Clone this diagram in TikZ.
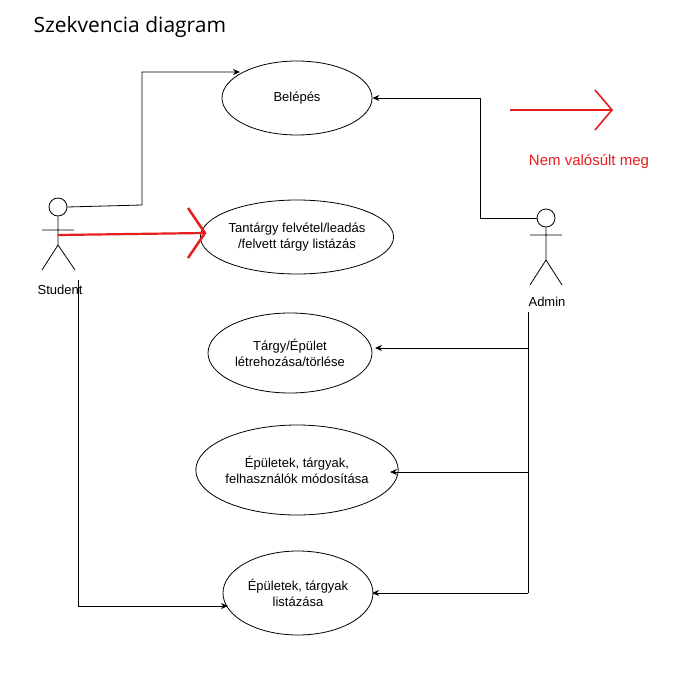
\documentclass[tikz,border=0pt]{standalone}
\usepackage{fontspec}
\setmainfont{Liberation Sans}
\newfontfamily\titlefont{Open Sans}
\usetikzlibrary{arrows.meta,shapes.geometric}
\definecolor{myred}{RGB}{230,30,30}
\begin{document}
\begin{tikzpicture}[x=1pt,y=-1pt,
  uc/.style={draw,ellipse,inner sep=0pt,line width=0.8pt,font=\fontsize{13}{15.5}\selectfont,align=center},
  ln/.style={draw,line width=0.8pt},
  ar/.style={ln,-{Stealth[length=7pt,width=6pt]}},
  red/.style={draw=myred,line width=2.2pt}]
\useasboundingbox (0,0) rectangle (675,690);
\node[anchor=west,font=\titlefont\fontsize{21}{25}\selectfont] (t) at (30,27) {Szekvencia diagram};
\node[uc,minimum width=150pt,minimum height=74pt] (b) at (297,98) {Belépés};
\node[uc,minimum width=174pt,minimum height=74pt] (tt) at (297,237) {Tantárgy felvétel/leadás\\/felvett tárgy listázás};
\node[uc,minimum width=164pt,minimum height=80pt] (te) at (290,353) {Tárgy/Épület\\létrehozása/törlése};
\node[uc,minimum width=176pt,minimum height=90pt] (em) at (297,470) {Épületek, tárgyak,\\felhasználók módosítása};
\node[uc,minimum width=150pt,minimum height=84pt] (el) at (298,593) {Épületek, tárgyak\\listázása};
% Student
\node[draw,circle,minimum size=18pt,inner sep=0pt,line width=0.8pt] (sh) at (58,207) {};
\draw[ln] (sh.south) -- (58,245) coordinate (sb) (42,230) -- (74,230) (42,270) -- (sb) -- (75,270);
\node[font=\fontsize{13}{15}\selectfont] (sl) at (60,290) {Student};
% Admin
\node[draw,circle,minimum size=18pt,inner sep=0pt,line width=0.8pt] (ah) at (546,218) {};
\draw[ln] (ah.south) -- (546,260) coordinate (ab) (530,235) -- (562,235) (530,285) -- (ab) -- (562,285);
\node[font=\fontsize{13}{15}\selectfont] (al) at (547,302) {Admin};
% connectors
\draw[ar] (sh.east) -- (142,205) -- (142,72) -- (240,72);
\draw[ar] (ah.west) -- (480,218) -- (480,98) -- (b.east);
\coordinate (v1) at (528,312);
\draw[ln] (v1) -- (528,593);
\draw[ar] (528,348) -- (375,348);
\draw[ar] (528,472) -- (390,472);
\draw[ar] (528,593) -- (372,593);
\draw[ar] (78,280) -- (78,606) -- (228,606);
% red
\draw[red] (58,235) -- (205,233);
\draw[red,line width=2.5pt] (188,208) -- (205,233) -- (188,258);
\coordinate (r1) at (510,110);
\draw[draw=myred,line width=1.6pt] (r1) -- (612,110);
\draw[draw=myred,line width=1.6pt] (595,90) -- (612,110) -- (595,130);
\node[text=myred,font=\fontsize{15}{17}\selectfont] (nv) at (589,162) {Nem valósúlt meg};
\end{tikzpicture}
\end{document}
